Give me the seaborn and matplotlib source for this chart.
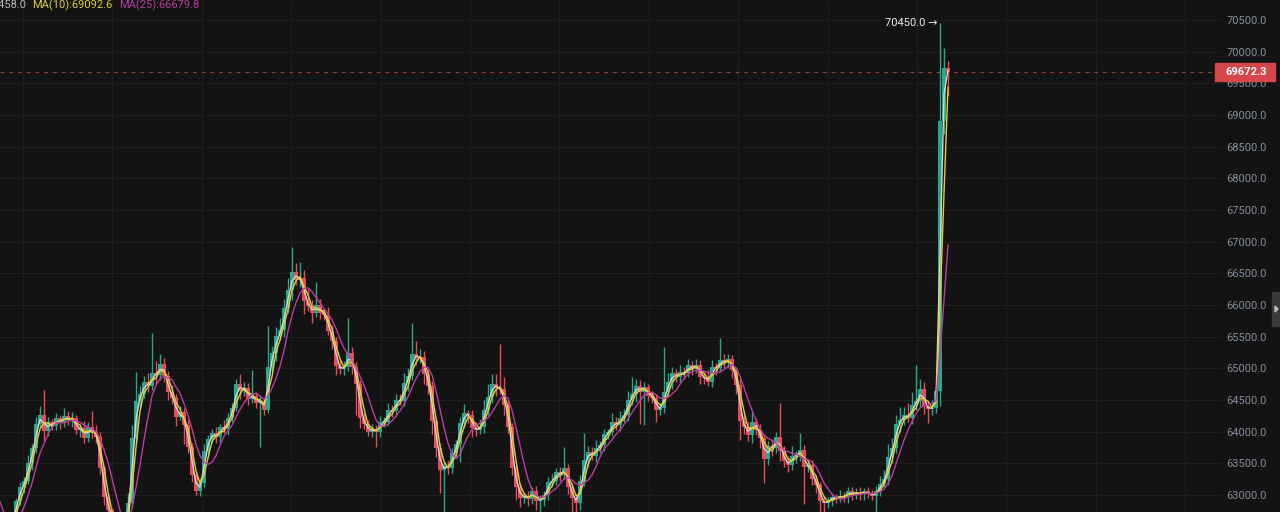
import numpy as np
import pandas as pd
import matplotlib
matplotlib.use("Agg")
import matplotlib.pyplot as plt
import matplotlib.transforms as mtransforms
from matplotlib.patches import Rectangle, Polygon
import seaborn as sns

# closing prices, one per candle (left to right)
closes = [
    63550, 63420, 63200, 63030, 62740, 62560, 62380, 62420, 62560, 62650,
    62900, 63120, 63220, 63510, 63740, 64130, 64260, 64010, 64150, 64090,
    64210, 64140, 64250, 64180, 64220, 64030, 64060, 63900, 64080, 63990,
    63920, 63420, 62970, 62760, 62500, 62470, 62410, 62580, 62880, 63900,
    64480, 64600, 64780, 64720, 64920, 64900, 65070, 64880, 64620, 64530,
    64240, 64310, 64100, 63760, 63320, 63060, 63190, 63690, 63880, 63980,
    63910, 64070, 64040, 64220, 64380, 64760, 64640, 64690, 64520, 64570,
    64460, 64490, 64350, 65020, 65240, 65510, 65600, 65950, 66230, 66520,
    66400, 66430, 66060, 65990, 65870, 66000, 65880, 65850, 65590, 65430,
    65040, 64990, 65020, 65250, 65030, 64760, 64210, 64130, 64000, 64050,
    63990, 64160, 64160, 64340, 64330, 64500, 64490, 64770, 64880, 65230,
    65160, 65180, 64910, 64720, 64170, 63750, 63390, 63460, 63430, 63660,
    63800, 64140, 64290, 64260, 64060, 64020, 64080, 64350, 64550, 64760,
    64690, 64670, 64420, 64080, 63430, 63120, 62960, 62990, 62940, 63060,
    62910, 62930, 63000, 63210, 63230, 63360, 63320, 63420, 63130, 62960,
    62880, 63220, 63550, 63680, 63620, 63750, 63790, 63960, 63990, 64150,
    64100, 64210, 64270, 64500, 64590, 64730, 64630, 64700, 64570, 64540,
    64350, 64380, 64620, 64780, 64920, 64860, 64940, 64920, 65050, 64990,
    65060, 64870, 64850, 64790, 65030, 65000, 65140, 65080, 65150, 64970,
    64740, 64170, 64070, 63950, 64160, 64030, 63900, 63570, 63770, 63740,
    63910, 63690, 63540, 63470, 63620, 63630, 63710, 63450, 63480, 63260,
    63160, 62910, 62870, 62910, 62970, 62950, 62990, 62970, 63060, 63000,
    63050, 63010, 63060, 63020, 62990, 63060, 63180, 63250, 63600, 63750,
    64120, 64190, 64270, 64220, 64420, 64480, 64680, 64400, 64360, 64380,
    64650, 68900, 69750, 69672.3,
]
first_open = 63700

# wick lengths above the body / below the body
wick_up = [
    60, 40, 50, 30, 70, 40, 50, 60, 40, 80,
    50, 90, 60, 120, 70, 100, 150, 400, 90, 50,
    80, 60, 130, 70, 90, 50, 60, 110, 70, 250,
    120, 80, 60, 50, 40, 60, 50, 90, 150, 200,
    460, 120, 100, 150, 640, 200, 150, 90, 80, 120,
    60, 90, 70, 100, 60, 50, 80, 120, 70, 60,
    90, 60, 120, 80, 70, 80, 150, 100, 80, 400,
    60, 90, 50, 650, 120, 150, 200, 150, 200, 400,
    150, 250, 120, 200, 90, 360, 100, 80, 120, 90,
    60, 90, 100, 550, 80, 70, 60, 90, 50, 80,
    60, 90, 70, 120, 80, 100, 90, 150, 120, 490,
    200, 120, 90, 60, 80, 50, 70, 60, 90, 80,
    70, 100, 150, 60, 80, 90, 120, 150, 200, 150,
    150, 700, 200, 80, 60, 50, 70, 60, 80, 60,
    90, 60, 70, 80, 100, 60, 90, 340, 70, 60,
    60, 90, 430, 100, 80, 120, 70, 90, 60, 150,
    80, 120, 90, 150, 270, 100, 80, 90, 60, 70,
    60, 80, 720, 150, 100, 70, 120, 80, 100, 60,
    90, 70, 60, 120, 100, 60, 340, 90, 70, 60,
    60, 90, 100, 80, 150, 60, 90, 60, 80, 120,
    80, 540, 90, 70, 150, 60, 270, 80, 60, 70,
    60, 50, 80, 60, 70, 50, 90, 60, 70, 60,
    60, 80, 50, 70, 60, 90, 120, 150, 200, 150,
    150, 200, 120, 180, 200, 570, 150, 100, 90, 120,
    80, 1550, 310, 100,
]
wick_dn = [
    50, 60, 40, 70, 50, 60, 80, 40, 60, 50,
    90, 60, 80, 50, 120, 70, 60, 150, 80, 60,
    70, 90, 60, 80, 100, 60, 120, 80, 60, 90,
    100, 80, 120, 60, 90, 70, 80, 60, 50, 90,
    80, 120, 70, 90, 60, 150, 80, 100, 120, 90,
    150, 60, 300, 90, 120, 60, 80, 70, 90, 60,
    80, 100, 60, 90, 70, 60, 120, 80, 90, 60,
    80, 700, 90, 60, 80, 120, 60, 100, 80, 150,
    90, 120, 200, 80, 150, 60, 100, 90, 70, 120,
    150, 80, 100, 60, 120, 500, 150, 80, 60, 90,
    230, 70, 90, 60, 100, 80, 60, 90, 120, 70,
    100, 80, 150, 120, 200, 150, 360, 700, 100, 80,
    90, 270, 80, 120, 150, 90, 60, 100, 80, 90,
    120, 80, 150, 100, 120, 200, 150, 90, 120, 80,
    150, 200, 100, 80, 90, 70, 100, 60, 120, 300,
    150, 120, 80, 100, 60, 90, 80, 100, 70, 60,
    80, 90, 60, 100, 70, 120, 500, 520, 80, 90,
    200, 80, 90, 60, 100, 70, 80, 90, 60, 100,
    70, 120, 90, 60, 80, 100, 60, 70, 80, 120,
    150, 300, 100, 90, 120, 80, 150, 380, 90, 120,
    80, 150, 90, 100, 70, 120, 90, 590, 80, 100,
    120, 210, 150, 80, 90, 70, 60, 80, 90, 70,
    60, 80, 90, 60, 70, 300, 80, 60, 90, 100,
    80, 120, 90, 70, 100, 80, 90, 120, 220, 100,
    80, 250, 200, 370,
]

y_ticks = [63000, 63500, 64000, 64500, 65000, 65500, 66000, 66500,
           67000, 67500, 68000, 68500, 69000, 69500, 70000, 70500]

# legend strings as shown in the header
ma_labels = ["MA(7):69458.0", "MA(10):69092.6", "MA(25):66679.8"]
# candles here are ~4x wider than in the source, so the windows are scaled
ma_windows = {"MA(7)": 2, "MA(10)": 3, "MA(25)": 6}

bg = "#131313"
up_col, dn_col = "#26a98b", "#e84c56"
ma_cols = {"MA(7)": "#d9d2d8", "MA(10)": "#e2cf2b", "MA(25)": "#bd3aa3"}
tick_col = "#848e9c"

df = pd.DataFrame({"close": closes, "up": wick_up, "dn": wick_dn})
df["idx"] = np.arange(len(df))
df["open"] = df["close"].shift(1).fillna(first_open)
df["top"] = df[["open", "close"]].max(axis=1)
df["bot"] = df[["open", "close"]].min(axis=1)
df["high"] = df["top"] + df["up"]
df["low"] = df["bot"] - df["dn"]
df["rising"] = df["close"] >= df["open"]

ma = []
for name, w in ma_windows.items():
    m = pd.DataFrame({"idx": df["idx"], "value": df["close"].rolling(w).mean(), "ma": name})
    ma.append(m)
ma = pd.concat(ma).dropna()

sns.set_theme(style="dark", rc={
    "axes.facecolor": bg, "figure.facecolor": bg,
    "axes.grid": True, "grid.color": "#1f1f1f", "grid.linewidth": 0.8,
})
plt.rcParams["font.family"] = ["Roboto", "DejaVu Sans"]

fig = plt.figure(figsize=(12.8, 5.12), dpi=100)
ax = fig.add_axes([0, 0, 1222 / 1280, 1])

colors = np.where(df["rising"], up_col, dn_col)
ax.vlines(df["idx"], df["low"], df["high"], colors=colors, lw=1.0, zorder=2)
ax.bar(df["idx"], (df["top"] - df["bot"]).clip(lower=10), bottom=df["bot"],
       width=0.85, color=colors, linewidth=0, zorder=3)

sns.lineplot(data=ma, x="idx", y="value", hue="ma", palette=ma_cols,
             linewidth=1.0, legend=False, ax=ax, zorder=4)

# x: pixel 0 sits at candle 6, 4 px per candle
ax.set_xlim(6, 311.5)
ax.set_ylim(62733, 70816)
grid_px = 23 + 89.4 * np.arange(14)
ax.set_xticks((grid_px + 24) / 4)
ax.set_xticklabels([])
ax.tick_params(axis="x", length=0)
ax.set_xlabel("")
ax.set_ylabel("")
ax.yaxis.tick_right()
ax.set_yticks(y_ticks)
ax.set_yticklabels([f"{v:.1f}" for v in y_ticks])
ax.tick_params(axis="y", length=0, pad=3, labelsize=8, labelcolor=tick_col)
for s in ax.spines.values():
    s.set_visible(False)

last = closes[-1]
ax.axhline(last, color="#963a35", lw=0.9, ls=(0, (3, 4)), zorder=1)

# price tag on the right
trans = mtransforms.blended_transform_factory(fig.transFigure, ax.transData)
tag_h = 18 * (70816 - 62733) / 512
fig.add_artist(Rectangle((1215 / 1280, last - tag_h / 2), 60 / 1280, tag_h,
                         transform=trans, color="#d6464b", zorder=5))
fig.text(1226 / 1280, last, f"{last:.1f}", transform=trans, color="white",
         fontsize=8, fontweight="bold", va="center", ha="left", zorder=6)

# high marker
hi = df["high"].idxmax()
ax.annotate(f"{df['high'][hi]:.1f} \u2192", xy=(df["idx"][hi], df["high"][hi]),
            xytext=(-2, 0), textcoords="offset points", ha="right", va="center",
            color="#eaecef", fontsize=8)

# MA header
fig.text(26 / 1280, 1 - 8.5 / 512, ma_labels[0], ha="right", va="baseline",
         color="#b9b9b9", fontsize=8)
fig.text(32 / 1280, 1 - 8.5 / 512, ma_labels[1], ha="left", va="baseline",
         color=ma_cols["MA(10)"], fontsize=8)
fig.text(119 / 1280, 1 - 8.5 / 512, ma_labels[2], ha="left", va="baseline",
         color=ma_cols["MA(25)"], fontsize=8)

# small side handle
fig.add_artist(Rectangle((1272 / 1280, 1 - 326 / 512), 8 / 1280, 34 / 512,
                         transform=fig.transFigure, color="#3a3a3a", zorder=5))
fig.add_artist(Polygon([[1275 / 1280, 1 - 306 / 512], [1275 / 1280, 1 - 312 / 512],
                        [1278 / 1280, 1 - 309 / 512]], transform=fig.transFigure,
                       color="#bbbbbb", zorder=6))

fig.savefig("out.png", dpi=100, facecolor=bg)
